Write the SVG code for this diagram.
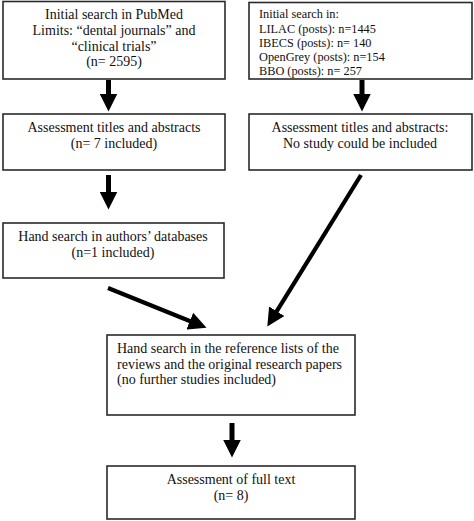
<svg xmlns="http://www.w3.org/2000/svg" width="474" height="521" viewBox="0 0 474 521">
<style>
.box{fill:#fff;stroke:#2a2a2a;stroke-width:1.6}
text{font-family:"Liberation Serif","Times New Roman",serif;font-size:14px;fill:#111}
.c{text-anchor:middle}
.s{font-size:12.3px}
.arr{stroke:#000;stroke-width:5;fill:none;marker-end:url(#head)}
.diag{stroke:#000;stroke-width:4.2;fill:none;marker-end:url(#head)}
</style>
<defs>
<marker id="head" viewBox="0 0 18 18" refX="0.5" refY="9" markerWidth="18" markerHeight="18" markerUnits="userSpaceOnUse" orient="auto">
<path d="M0,0 L18,9 L0,18 z" fill="#000"/>
</marker>
</defs>
<rect width="474" height="521" fill="#fff"/>
<g id="connectors">
<line class="arr" x1="108.5" y1="80" x2="108.5" y2="94"/>
<line class="arr" x1="362" y1="80" x2="362" y2="94"/>
<line class="arr" x1="108.5" y1="175" x2="108.5" y2="192"/>
<line class="diag" x1="108" y1="288" x2="190.3" y2="321.3"/>
<line class="diag" x1="361" y1="175" x2="276.5" y2="311.7"/>
<line class="arr" x1="232" y1="423" x2="232" y2="440"/>
</g>
<g id="pubmed">
<rect class="box" x="3" y="1.5" width="222" height="77.5"/>
<text class="c" x="114" y="19">Initial search in PubMed</text>
<text class="c" x="114" y="35">Limits: “dental journals” and</text>
<text class="c" x="114" y="50.5">“clinical trials”</text>
<text class="c" x="114" y="66">(n= 2595)</text>
</g>
<g id="other-db">
<rect class="box" x="249" y="2.5" width="223" height="76.5"/>
<text class="s" x="259" y="18">Initial search in:</text>
<text class="s" x="259" y="32.5">LILAC (posts): n=1445</text>
<text class="s" x="259" y="46.5">IBECS (posts): n= 140</text>
<text class="s" x="259" y="60.5">OpenGrey (posts): n=154</text>
<text class="s" x="259" y="74.5">BBO (posts): n= 257</text>
</g>
<g id="assess-left">
<rect class="box" x="3" y="114" width="222" height="56"/>
<text class="c" x="114" y="132">Assessment titles and abstracts</text>
<text class="c" x="114" y="148">(n= 7 included)</text>
</g>
<g id="assess-right">
<rect class="box" x="249" y="114" width="223" height="56"/>
<text class="c" x="360" y="132">Assessment titles and abstracts:</text>
<text class="c" x="360" y="148">No study could be included</text>
</g>
<g id="hand-authors">
<rect class="box" x="3" y="223" width="221" height="55"/>
<text class="c" x="113" y="241">Hand search in authors’ databases</text>
<text class="c" x="113" y="257">(n=1 included)</text>
</g>
<g id="hand-reference">
<rect class="box" x="107" y="335" width="248" height="80"/>
<text x="117" y="353">Hand search in the reference lists of the</text>
<text x="117" y="368.5">reviews and the original research papers</text>
<text x="117" y="384">(no further studies included)</text>
</g>
<g id="full-text">
<rect class="box" x="107" y="466" width="248" height="53"/>
<text class="c" x="231" y="484">Assessment of full text</text>
<text class="c" x="231" y="500">(n= 8)</text>
</g>
</svg>
